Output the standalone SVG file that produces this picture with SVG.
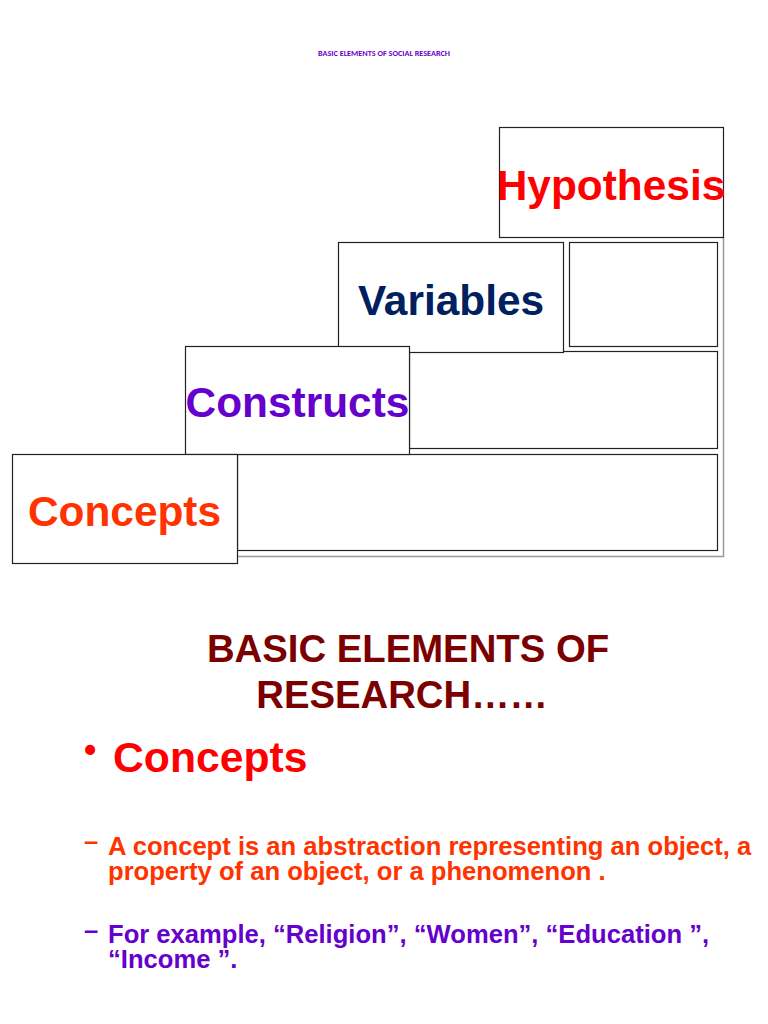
<svg xmlns="http://www.w3.org/2000/svg" width="768" height="1024" viewBox="0 0 768 1024">
<style>
text{font-family:"Liberation Sans",Arial,sans-serif;font-weight:bold}
.box{fill:#fff;stroke:#222;stroke-width:1.200}
.mid{text-anchor:middle;font-size:42.400px}
.head{text-anchor:middle;font-size:38.300px;fill:#7b0000}
.body{font-size:25.600px}
</style>
<rect width="768" height="1024" fill="#fff"/>
<text x="384" y="55.500" text-anchor="middle" style="font-family:Carlito,Lato,sans-serif;font-size:8.200px" fill="#6600cc">BASIC ELEMENTS OF SOCIAL RESEARCH</text>
<g id="backing"><path d="M723.500 237V556.500H237" fill="none" stroke="#999" stroke-width="1.500"/></g>
<g id="panel-variables"><rect class="box" x="569.500" y="242.500" width="148" height="104"/></g>
<g id="panel-constructs"><rect class="box" x="409.500" y="351.500" width="308" height="97"/></g>
<g id="panel-concepts"><rect class="box" x="237.500" y="454.500" width="480" height="96"/></g>
<g id="node-hypothesis"><rect class="box" x="499.500" y="127.500" width="224" height="110"/><text class="mid" x="611" y="199.500" fill="#ff0000">Hypothesis</text></g>
<g id="node-variables"><rect class="box" x="338.500" y="242.500" width="225" height="110"/><text class="mid" x="451" y="314.500" fill="#002060">Variables</text></g>
<g id="node-constructs"><rect class="box" x="185.500" y="346.500" width="224" height="108"/><text class="mid" x="297.500" y="416.500" fill="#6600cc">Constructs</text></g>
<g id="node-concepts"><rect class="box" x="12.500" y="454.500" width="225" height="109"/><text class="mid" x="124.500" y="525.500" fill="#ff3300">Concepts</text></g>
<text class="head" x="408" y="662">BASIC ELEMENTS OF</text>
<text class="head" x="402" y="708">RESEARCH……</text>
<text x="84" y="762" style="font-size:35px" fill="#ff0000">•</text>
<text x="113" y="772" style="font-size:42.700px" fill="#ff0000">Concepts</text>
<text x="84" y="850" class="body" fill="#ff3300">–</text>
<text x="108" y="854.500" class="body" fill="#ff3300">A concept is an abstraction representing an object, a</text>
<text x="108" y="879.500" class="body" fill="#ff3300">property of an object, or a phenomenon .</text>
<text x="84" y="939" class="body" fill="#6600cc">–</text>
<text x="108" y="943" class="body" fill="#6600cc">For example, “Religion”, “Women”, “Education ”,</text>
<text x="108" y="968" class="body" fill="#6600cc">“Income ”.</text>
</svg>
